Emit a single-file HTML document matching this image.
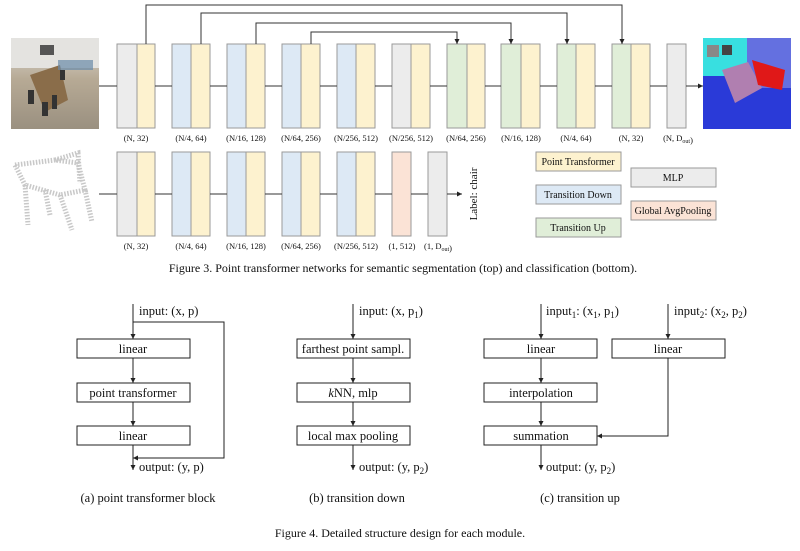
<!DOCTYPE html>
<html><head><meta charset="utf-8"><style>
html,body{margin:0;padding:0;background:#fff}
svg text{font-family:"Liberation Serif",serif;fill:#111}
</style></head><body>
<svg width="800" height="546" viewBox="0 0 800 546" xmlns="http://www.w3.org/2000/svg">
<defs>
<marker id="a" markerWidth="6" markerHeight="6" refX="5" refY="3" orient="auto" markerUnits="userSpaceOnUse"><path d="M0,0.5 L5,3 L0,5.5z" fill="#222"/></marker>
<linearGradient id="room" x1="0" y1="0" x2="0" y2="1"><stop offset="0" stop-color="#dcdad6"/><stop offset="0.45" stop-color="#b7aa95"/><stop offset="1" stop-color="#9a9080"/></linearGradient>
</defs>
<!-- input room image -->
<rect x="11" y="38" width="88" height="91" fill="url(#room)"/>
<rect x="11" y="38" width="88" height="30" fill="#e4e3e0"/>
<polygon points="30,75 60,65 68,100 45,112" fill="#8a6d4a"/>
<g fill="#333"><rect x="28" y="90" width="6" height="14"/><rect x="42" y="102" width="6" height="14"/><rect x="52" y="95" width="5" height="14"/><rect x="60" y="70" width="5" height="10"/></g>
<rect x="40" y="45" width="14" height="10" fill="#555"/>
<rect x="58" y="60" width="35" height="10" fill="#6a8aa8" opacity="0.7"/>
<!-- output seg image -->
<rect x="703" y="38" width="88" height="91" fill="#2a3ad8"/>
<rect x="703" y="38" width="88" height="38" fill="#38dfe0"/>
<rect x="747" y="38" width="44" height="50" fill="#6470e0"/>
<polygon points="722,70 748,62 762,88 735,103" fill="#b07fb0"/>
<polygon points="752,60 785,70 782,90 758,85" fill="#e01818"/>
<rect x="707" y="45" width="12" height="12" fill="#888"/><rect x="722" y="45" width="10" height="10" fill="#444"/>
<!-- chair -->
<g fill="none" stroke="#c8c8c8" stroke-width="5" stroke-dasharray="1.5 1.5">
<path d="M15,165 L55,160 L78,163 L85,190 L60,195 L25,185z"/>
<path d="M55,160 L78,153 L80,183"/>
<path d="M25,185 L28,225"/><path d="M60,195 L72,230"/><path d="M85,190 L92,222"/><path d="M45,190 L50,215"/>
</g>
<g stroke="#9a9a9a" stroke-width="1">
<g id="t">
<rect x="117" y="44" width="20" height="84" fill="#ececec"/><rect x="137" y="44" width="18" height="84" fill="#fdf2cf"/>
<rect x="172" y="44" width="19" height="84" fill="#dde9f5"/><rect x="191" y="44" width="19" height="84" fill="#fdf2cf"/>
<rect x="227" y="44" width="19" height="84" fill="#dde9f5"/><rect x="246" y="44" width="19" height="84" fill="#fdf2cf"/>
<rect x="282" y="44" width="19" height="84" fill="#dde9f5"/><rect x="301" y="44" width="19" height="84" fill="#fdf2cf"/>
<rect x="337" y="44" width="19" height="84" fill="#dde9f5"/><rect x="356" y="44" width="19" height="84" fill="#fdf2cf"/>
</g>
<rect x="392" y="44" width="19" height="84" fill="#ececec"/><rect x="411" y="44" width="19" height="84" fill="#fdf2cf"/>
<rect x="447" y="44" width="20" height="84" fill="#e0eed8"/><rect x="467" y="44" width="18" height="84" fill="#fdf2cf"/>
<rect x="501" y="44" width="20" height="84" fill="#e0eed8"/><rect x="521" y="44" width="19" height="84" fill="#fdf2cf"/>
<rect x="557" y="44" width="19" height="84" fill="#e0eed8"/><rect x="576" y="44" width="19" height="84" fill="#fdf2cf"/>
<rect x="612" y="44" width="19" height="84" fill="#e0eed8"/><rect x="631" y="44" width="19" height="84" fill="#fdf2cf"/>
<rect x="667" y="44" width="19" height="84" fill="#ececec"/>
<use href="#t" y="108"/>
<rect x="392" y="152" width="19" height="84" fill="#fbe3d6"/>
<rect x="428" y="152" width="19" height="84" fill="#ececec"/>
<rect x="536" y="152" width="85" height="19" fill="#fdf2cf"/>
<rect x="536" y="185" width="85" height="19" fill="#dde9f5"/>
<rect x="536" y="218" width="85" height="19" fill="#e0eed8"/>
<rect x="631" y="168" width="85" height="19" fill="#ececec"/>
<rect x="631" y="201" width="85" height="19" fill="#fbe3d6"/>
</g>
<g stroke="#333" stroke-width="1" fill="none">
<path d="M99,86H117M155,86H172M210,86H227M265,86H282M320,86H337M375,86H392M430,86H447M485,86H501M540,86H557M595,86H612M650,86H667M686,86H703" marker-end="url(#a)"/>
<path d="M99,194H117M155,194H172M210,194H227M265,194H282M320,194H337M375,194H392M411,194H428M447,194H462" marker-end="url(#a)"/>
<path d="M146,44V5H622V44" marker-end="url(#a)"/>
<path d="M201,44V13H567V44" marker-end="url(#a)"/>
<path d="M256,44V23H511V44" marker-end="url(#a)"/>
<path d="M311,44V32H457V44" marker-end="url(#a)"/>
</g>
<g font-size="8.5" text-anchor="middle">
<text x="136" y="141">(N, 32)</text><text x="191" y="141">(N/4, 64)</text><text x="246" y="141">(N/16, 128)</text><text x="301" y="141">(N/64, 256)</text><text x="356" y="141">(N/256, 512)</text><text x="411" y="141">(N/256, 512)</text><text x="466" y="141">(N/64, 256)</text><text x="521" y="141">(N/16, 128)</text><text x="576" y="141">(N/4, 64)</text><text x="631" y="141">(N, 32)</text><text x="678" y="141">(N, D<tspan font-size="6" dy="2">out</tspan>)</text>
<text x="136" y="249">(N, 32)</text><text x="191" y="249">(N/4, 64)</text><text x="246" y="249">(N/16, 128)</text><text x="301" y="249">(N/64, 256)</text><text x="356" y="249">(N/256, 512)</text><text x="402" y="249">(1, 512)</text><text x="438" y="249">(1, D<tspan font-size="6" dy="2">out</tspan>)</text>
</g>
<text x="477" y="194" font-size="11" text-anchor="middle" transform="rotate(-90 477 194)">Label: chair</text>
<g font-size="10" text-anchor="middle">
<text x="578" y="165">Point Transformer</text>
<text x="578" y="198">Transition Down</text>
<text x="578" y="231">Transition Up</text>
<text x="673" y="181">MLP</text>
<text x="673" y="214">Global AvgPooling</text>
</g>
<text x="403" y="272" font-size="12" text-anchor="middle">Figure 3. Point transformer networks for semantic segmentation (top) and classification (bottom).</text>
<g stroke="#222" stroke-width="1" fill="#fff">
<rect x="77" y="339" width="113" height="19"/><rect x="77" y="383" width="113" height="19"/><rect x="77" y="426" width="113" height="19"/>
<rect x="297" y="339" width="113" height="19"/><rect x="297" y="383" width="113" height="19"/><rect x="297" y="426" width="113" height="19"/>
<rect x="484" y="339" width="113" height="19"/><rect x="612" y="339" width="113" height="19"/><rect x="484" y="383" width="113" height="19"/><rect x="484" y="426" width="113" height="19"/>
</g>
<g stroke="#222" stroke-width="1" fill="none" marker-end="url(#a)">
<path d="M133,304V339"/><path d="M133,358V383"/><path d="M133,402V426"/><path d="M133,445V470"/>
<path d="M133,322H224V458H133"/>
<path d="M353,304V339"/><path d="M353,358V383"/><path d="M353,402V426"/><path d="M353,445V470"/>
<path d="M541,304V339"/><path d="M541,358V383"/><path d="M541,402V426"/><path d="M541,445V470"/>
<path d="M668,304V339"/><path d="M668,358V436H597"/>
</g>
<g font-size="12.5">
<text x="139" y="315">input: (x, p)</text>
<text x="139" y="471">output: (y, p)</text>
<text x="359" y="315">input: (x, p<tspan font-size="9" dy="3">1</tspan><tspan dy="-3">)</tspan></text>
<text x="359" y="471">output: (y, p<tspan font-size="9" dy="3">2</tspan><tspan dy="-3">)</tspan></text>
<text x="546" y="315">input<tspan font-size="9" dy="3">1</tspan><tspan dy="-3">: (x</tspan><tspan font-size="9" dy="3">1</tspan><tspan dy="-3">, p</tspan><tspan font-size="9" dy="3">1</tspan><tspan dy="-3">)</tspan></text>
<text x="674" y="315">input<tspan font-size="9" dy="3">2</tspan><tspan dy="-3">: (x</tspan><tspan font-size="9" dy="3">2</tspan><tspan dy="-3">, p</tspan><tspan font-size="9" dy="3">2</tspan><tspan dy="-3">)</tspan></text>
<text x="546" y="471">output: (y, p<tspan font-size="9" dy="3">2</tspan><tspan dy="-3">)</tspan></text>
</g>
<g font-size="12.5" text-anchor="middle">
<text x="133" y="353">linear</text><text x="133" y="397">point transformer</text><text x="133" y="440">linear</text>
<text x="353" y="353">farthest point sampl.</text><text x="353" y="397"><tspan font-style="italic">k</tspan>NN, mlp</text><text x="353" y="440">local max pooling</text>
<text x="541" y="353">linear</text><text x="668" y="353">linear</text><text x="541" y="397">interpolation</text><text x="541" y="440">summation</text>
<text x="148" y="502">(a) point transformer block</text>
<text x="357" y="502">(b) transition down</text>
<text x="580" y="502">(c) transition up</text>
</g>
<text x="400" y="537" font-size="12" text-anchor="middle">Figure 4. Detailed structure design for each module.</text>
</svg>
</body></html>
